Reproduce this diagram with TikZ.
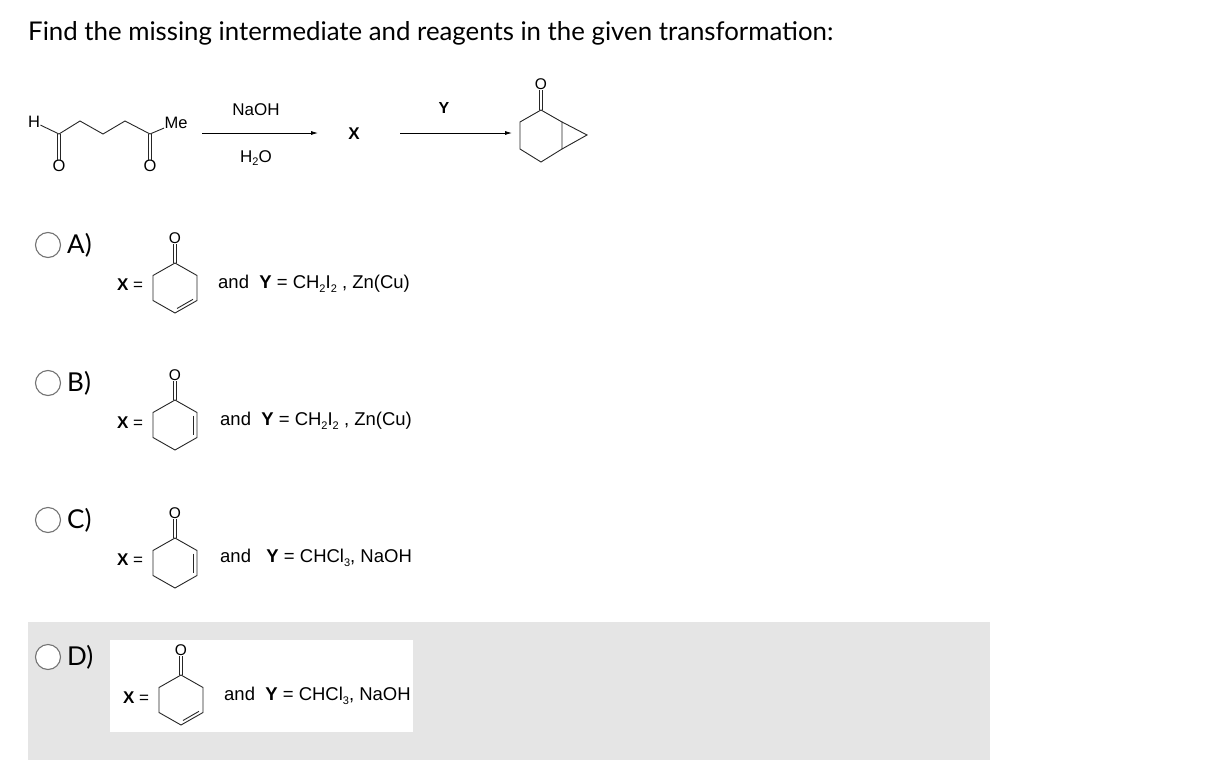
\documentclass[tikz,border=0pt]{standalone}
\usepackage{fontspec}
\setmainfont{Lato}
\newfontfamily\chem{Liberation Sans}
\newcommand\subs[1]{\raisebox{-3.5pt}{\fontsize{11}{11}\selectfont #1}}
\begin{document}
\begin{tikzpicture}[x=1pt,y=-1pt,
  bond/.style={line width=0.9pt,black!85},
  lbl/.style={font=\chem\fontsize{17}{17}\selectfont,inner sep=0pt},
  atom/.style={font=\chem\fontsize{16.5}{16.5}\selectfont,inner sep=0.3pt,fill=white},
  ratom/.style={font=\chem\fontsize{15.5}{15.5}\selectfont,inner sep=0.3pt,fill=white},
  opt/.style={draw=black!55,line width=1.1pt,fill=white,circle,minimum size=25pt,inner sep=0pt},
  letter/.style={font=\fontsize{26}{26}\selectfont,anchor=west,inner sep=0pt},
  xeq/.style={font=\chem\fontsize{17}{17}\selectfont,inner sep=0pt},
  ans/.style={anchor=west,font=\chem\fontsize{18.5}{18.5}\selectfont,inner sep=0pt},
  arr/.style={line width=0.8pt,-{Latex[length=7pt,width=4pt]}}]
\usetikzlibrary{arrows.meta}
\useasboundingbox (0,0) rectangle (1212,768);
\fill[white] (0,0) rectangle (1212,768);
\node[anchor=west,font=\fontsize{25.8}{26}\selectfont,inner sep=0pt] (title) at (28,33) {Find the missing intermediate and reagents in the given transformation:};
% starting material
\node[atom] (h) at (34,122) {H};
\node[atom] (me) at (176,123) {Me};
\node[atom] (o1) at (59,166) {O};
\node[atom] (o2) at (150,166) {O};
\coordinate (c1) at (59,134); \coordinate (c2) at (80,121); \coordinate (c3) at (103,134);
\coordinate (c4) at (125,121); \coordinate (c5) at (150,134);
\draw[bond] (h) -- (c1) -- (c2) -- (c3) -- (c4) -- (c5) -- (me);
\draw[bond] ([xshift=-1.6pt]c1) -- ([xshift=-1.6pt]o1.north);
\draw[bond] ([xshift=1.6pt]c1) -- ([xshift=1.6pt]o1.north);
\draw[bond] ([xshift=-1.6pt]c5) -- ([xshift=-1.6pt]o2.north);
\draw[bond] ([xshift=1.6pt]c5) -- ([xshift=1.6pt]o2.north);
% arrows
\coordinate (a1s) at (202,133); \coordinate (a1e) at (318,133);
\draw[arr] (a1s) -- (a1e);
\node[lbl] (naoh) at (256,110) {NaOH};
\node[lbl] (h2o) at (256,158) {H\subs{2}O};
\node[lbl,font=\chem\bfseries\fontsize{17}{17}\selectfont] (x) at (354,134) {X};
\coordinate (a2s) at (400,133); \coordinate (a2e) at (512,133);
\draw[arr] (a2s) -- (a2e);
\node[lbl,font=\chem\bfseries\fontsize{16}{16}\selectfont] (y) at (444,108) {Y};
% product
\begin{scope}[shift={(541,0)}]
\coordinate (p1) at (0,110); \coordinate (p2) at (21,122); \coordinate (p3) at (21,149);
\coordinate (p4) at (0,162); \coordinate (p5) at (-21,149); \coordinate (p6) at (-21,122);
\coordinate (p7) at (46,135);
\node[ratom] (po) at (0,84) {O};
\draw[bond] (p1) -- (p2) -- (p3) -- (p4) -- (p5) -- (p6) -- cycle;
\draw[bond] (p2) -- (p7) -- (p3);
\draw[bond] ([xshift=-1.5pt]p1) -- ([xshift=-1.5pt]po.south);
\draw[bond] ([xshift=1.5pt]p1) -- ([xshift=1.5pt]po.south);
\end{scope}
% option D background
\fill[black!10] (28,622) rectangle (990,760);
\fill[white] (110,640) rectangle (413,732);
\newcommand\cyc[4]{% x, y (top carbon), type (1: bottom-LR, 2: UR-LR), name prefix
\begin{scope}[shift={(#1,#2)}]
\coordinate (#4a) at (0,0); \coordinate (#4b) at (22,12.5); \coordinate (#4c) at (22,37.5);
\coordinate (#4d) at (0,50); \coordinate (#4e) at (-22,37.5); \coordinate (#4f) at (-22,12.5);
\node[ratom] (#4o) at (0,-25) {O};
\draw[bond] (#4a) -- (#4b) -- (#4c) -- (#4d) -- (#4e) -- (#4f) -- cycle;
\draw[bond] ([xshift=-1.5pt]#4a) -- ([xshift=-1.5pt]#4o.south);
\draw[bond] ([xshift=1.5pt]#4a) -- ([xshift=1.5pt]#4o.south);
\ifnum#3=1 \draw[bond] (2,45.5) -- (18,36.3);\else \draw[bond] (18,15.5) -- (18,34.5);\fi
\end{scope}}
% options
\foreach \yy/\L in {245/A,383/B,520/C,657/D}{
  \node[opt] (c\L) at (48,\yy) {};
  \node[letter] (l\L) at (67,\yy) {\L)};
}
\cyc{175}{263}{1}{ra}
\cyc{175}{400}{2}{rb}
\cyc{175}{538}{2}{rc}
\cyc{181}{675}{1}{rd}
\node[xeq] (xa) at (130,285) {\textbf{X} =};
\node[xeq] (xb) at (130,423) {\textbf{X} =};
\node[xeq] (xc) at (130,560) {\textbf{X} =};
\node[xeq] (xd) at (136,698) {\textbf{X} =};
\node[ans] (ta) at (218,284) {and\ \ \textbf{Y} = CH\subs{2}I\subs{2} ,\ Zn(Cu)};
\node[ans] (tb) at (220,421) {and\ \ \textbf{Y} = CH\subs{2}I\subs{2} ,\ Zn(Cu)};
\node[ans] (tc) at (220,558) {and\ \ \ \textbf{Y} = CHCl\subs{3}, NaOH};
\node[ans] (td) at (224,696) {and\ \ \textbf{Y} = CHCl\subs{3}, NaOH};
\end{tikzpicture}
\end{document}
